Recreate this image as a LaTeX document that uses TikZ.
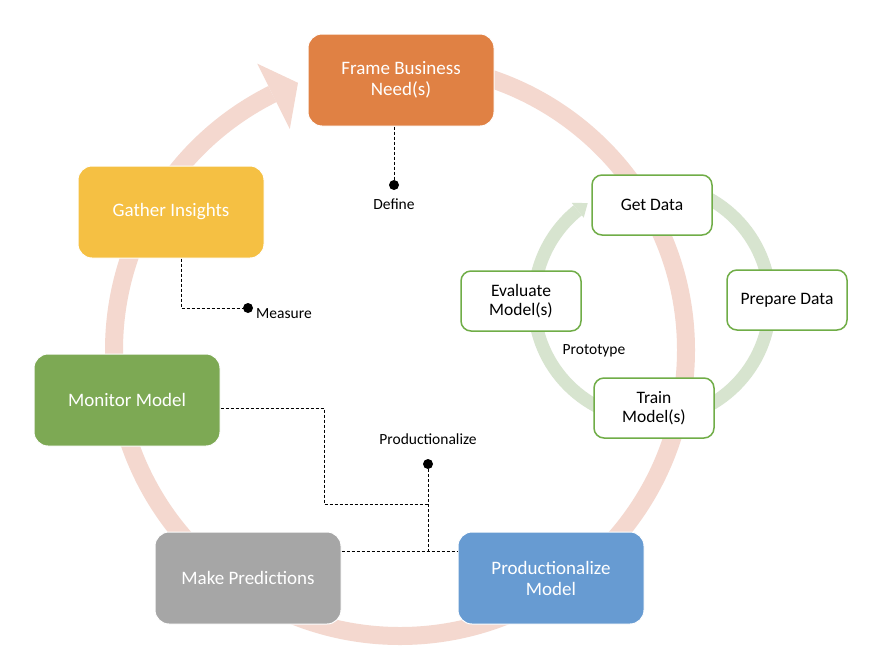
\documentclass[tikz,border=0pt]{standalone}
\usepackage{fontspec}
\setmainfont{Carlito}
\usetikzlibrary{calc}
\definecolor{ringred}{RGB}{244,216,207}
\definecolor{ringgreen}{RGB}{215,228,207}
\definecolor{cOrange}{RGB}{224,129,68}
\definecolor{cYellow}{RGB}{245,192,67}
\definecolor{cGreen}{RGB}{125,169,84}
\definecolor{cGray}{RGB}{166,166,166}
\definecolor{cBlue}{RGB}{103,155,210}
\definecolor{cBorder}{RGB}{112,173,71}
\begin{document}
\begin{tikzpicture}[x=1pt,y=-1pt,
 outerbox/.style={rectangle, rounded corners=14pt, minimum width=186pt, minimum height=92pt, draw=white, line width=1pt, text=white, align=center, font=\fontsize{19}{21}\selectfont, inner sep=0pt},
 innerbox/.style={rectangle, rounded corners=10pt, minimum width=120pt, minimum height=60pt, draw=cBorder, line width=1.5pt, fill=white, text=black, align=center, font=\fontsize{17.5}{19.5}\selectfont, inner sep=0pt},
 lbl/.style={font=\fontsize{15.5}{18}\selectfont, text=black, inner sep=0pt},
 dline/.style={dash pattern=on 3pt off 2pt, line width=0.9pt, black}]
\fill[white] (0,0) rectangle (875,670);
\useasboundingbox (0,0) rectangle (875,670);
% big ring
\coordinate (C) at (400,350);
\draw[ringred, line width=18pt] ($(C)+(-90:286)$) arc[start angle=-90, end angle=243.5, radius=286];
\fill[ringred] ($(C)+(243.5:320)$) -- ($(C)+(249.1:286)$) -- ($(C)+(243.5:247)$) -- cycle;
% inner ring
\coordinate (G) at (652,302);
\draw[ringgreen, line width=13pt] ($(G)+(-90:118)$) arc[start angle=-90, end angle=231, radius=118];
\fill[ringgreen] ($(G)+(231:127.5)$) -- ($(G)+(237:118)$) -- ($(G)+(231:108.5)$) -- cycle;
% outer boxes
\node[outerbox, fill=cOrange] (frame) at (401,80) {Frame Business\\Need(s)};
\node[outerbox, fill=cYellow] (gather) at (171,212) {Gather Insights};
\node[outerbox, fill=cGreen] (monitor) at (127,400) {Monitor Model};
\node[outerbox, fill=cGray] (predict) at (248,578) {Make Predictions};
\node[outerbox, fill=cBlue] (prodm) at (551,578) {Productionalize\\Model};
% inner boxes
\node[innerbox] (getdata) at (652,205) {Get Data};
\node[innerbox] (prep) at (787,300) {Prepare Data};
\node[innerbox] (train) at (654,408) {Train\\Model(s)};
\node[innerbox] (eval) at (521,301) {Evaluate\\Model(s)};
% Define
\coordinate (defdot) at (394,185);
\draw[dline] (frame.south -| defdot) -- (defdot);
\fill (defdot) circle[radius=5];
\node[lbl, anchor=base] (define) at (394,209) {Define};
% Measure
\coordinate (measdot) at (248,308);
\coordinate (mx) at (181,300);
\draw[dline] (gather.south -| mx) |- (measdot);
\fill (measdot) circle[radius=5];
\node[lbl, anchor=base west] (measure) at (256,318) {Measure};
% Prototype
\node[lbl, anchor=base] (proto) at (594,354) {Prototype};
% Productionalize
\coordinate (pdot) at (428,464);
\coordinate (pj) at (428,551);
\coordinate (mrow) at (0,408);
\coordinate (mcol) at (324,504);
\draw[dline] (monitor.east |- mrow) -| (mcol) -- (mcol -| pdot);
\draw[dline] (pdot) -- (pj);
\draw[dline] (predict.east |- pj) -- (prodm.west |- pj);
\fill (pdot) circle[radius=5];
\node[lbl, anchor=base] (prodlbl) at (428,444) {Productionalize};
\end{tikzpicture}
\end{document}
